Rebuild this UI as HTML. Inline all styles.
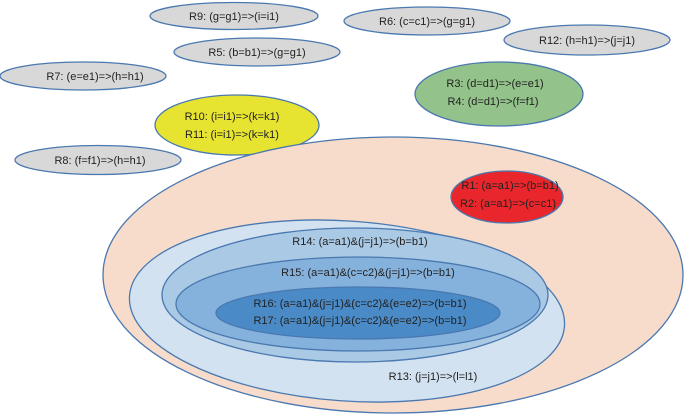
<!DOCTYPE html>
<html><head><style>
html,body{margin:0;padding:0;background:#fff;}
svg{display:block;}
text{font-family:"Liberation Sans",sans-serif;font-size:11px;fill:#222;text-anchor:middle;}
</style></head><body>
<svg width="685" height="415" viewBox="0 0 685 415">
<g stroke="#4a78b0" stroke-width="1.3">
<ellipse cx="234" cy="16" rx="84" ry="13.5" fill="#d8d8d8"/>
<ellipse cx="427" cy="21" rx="83" ry="14" fill="#d8d8d8"/>
<ellipse cx="587" cy="40" rx="83" ry="15" fill="#d8d8d8"/>
<ellipse cx="257" cy="52" rx="83" ry="14" fill="#d8d8d8"/>
<ellipse cx="83" cy="76" rx="83" ry="14" fill="#d8d8d8"/>
<ellipse cx="499" cy="94" rx="84" ry="32" fill="#93c28a"/>
<ellipse cx="237" cy="125" rx="82" ry="30" fill="#e6e431"/>
<ellipse cx="98" cy="160" rx="83" ry="14.5" fill="#d8d8d8"/>
<ellipse cx="393" cy="275" rx="290" ry="138" fill="#f7dccb"/>
<ellipse cx="507" cy="197" rx="56" ry="26" fill="#e8262b"/>
<ellipse cx="347" cy="311" rx="218" ry="90" fill="#d3e2f0" transform="rotate(4 347 311)"/>
<ellipse cx="355" cy="295" rx="193" ry="67" fill="#aac9e4"/>
<ellipse cx="358" cy="304" rx="182" ry="47" fill="#85b2dc"/>
<ellipse cx="358" cy="313" rx="142" ry="26" fill="#4a8ac6"/>
</g>
<text x="234" y="20">R9: (g=g1)=&gt;(i=i1)</text>
<text x="427" y="25">R6: (c=c1)=&gt;(g=g1)</text>
<text x="587" y="44">R12: (h=h1)=&gt;(j=j1)</text>
<text x="257" y="56">R5: (b=b1)=&gt;(g=g1)</text>
<text x="95" y="80">R7: (e=e1)=&gt;(h=h1)</text>
<text x="495" y="87">R3: (d=d1)=&gt;(e=e1)</text>
<text x="493" y="105">R4: (d=d1)=&gt;(f=f1)</text>
<text x="232" y="120">R10: (i=i1)=&gt;(k=k1)</text>
<text x="232" y="138">R11: (i=i1)=&gt;(k=k1)</text>
<text x="100" y="164">R8: (f=f1)=&gt;(h=h1)</text>
<text x="510" y="189">R1: (a=a1)=&gt;(b=b1)</text>
<text x="508" y="207">R2: (a=a1)=&gt;(c=c1)</text>
<text x="360" y="245">R14: (a=a1)&amp;(j=j1)=&gt;(b=b1)</text>
<text x="368" y="276">R15: (a=a1)&amp;(c=c2)&amp;(j=j1)=&gt;(b=b1)</text>
<text x="360" y="307">R16: (a=a1)&amp;(j=j1)&amp;(c=c2)&amp;(e=e2)=&gt;(b=b1)</text>
<text x="360" y="324">R17: (a=a1)&amp;(j=j1)&amp;(c=c2)&amp;(e=e2)=&gt;(b=b1)</text>
<text x="433" y="380">R13: (j=j1)=&gt;(l=l1)</text>
</svg>
</body></html>
